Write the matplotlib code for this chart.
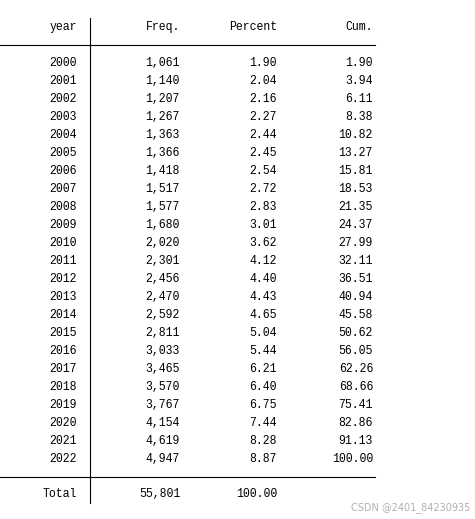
import matplotlib
matplotlib.use("Agg")
import matplotlib.pyplot as plt

years = list(range(2000, 2023))
freq = [1061,1140,1207,1267,1363,1366,1418,1517,1577,1680,2020,2301,2456,2470,2592,2811,3033,3465,3570,3767,4154,4619,4947]
percent = [1.90,2.04,2.16,2.27,2.44,2.45,2.54,2.72,2.83,3.01,3.62,4.12,4.40,4.43,4.65,5.04,5.44,6.21,6.40,6.75,7.44,8.28,8.87]
cum = [1.90,3.94,6.11,8.38,10.82,13.27,15.81,18.53,21.35,24.37,27.99,32.11,36.51,40.94,45.58,50.62,56.05,62.26,68.66,75.41,82.86,91.13,100.00]
headers = ["year", "Freq.", "Percent", "Cum."]
total_label, total_freq, total_pct = "Total", 55801, 100.00

W, H = 475, 519
fig = plt.figure(figsize=(W/100, H/100), dpi=100)
ax = fig.add_axes([0, 0, 1, 1])
ax.set_xlim(0, W); ax.set_ylim(H, 0); ax.axis("off")

font = dict(family="Liberation Mono", fontsize=8.3, color="black", ha="right", va="center")
colx = [77, 180, 277, 373]
for x, h in zip(colx, headers):
    ax.text(x, 27, h, **font)
ax.plot([0, 375], [45, 45], color="black", lw=0.8)
ax.plot([90, 90], [18, 503], color="black", lw=0.8)
ax.plot([0, 375], [477, 477], color="black", lw=0.8)

y0, dy = 63, 18
for i, (yr, f, p, c) in enumerate(zip(years, freq, percent, cum)):
    y = y0 + i * dy
    ax.text(colx[0], y, str(yr), **font)
    ax.text(colx[1], y, f"{f:,}", **font)
    ax.text(colx[2], y, f"{p:.2f}", **font)
    ax.text(colx[3], y, f"{c:.2f}", **font)

ax.text(colx[0], 494, total_label, **font)
ax.text(colx[1], 494, f"{total_freq:,}", **font)
ax.text(colx[2], 494, f"{total_pct:.2f}", **font)

ax.text(470, 508, "CSDN @2401_84230935", family="DejaVu Sans", fontsize=7,
        color="#b0b0b0", ha="right", va="center")
fig.savefig("out.png", dpi=100, facecolor="white")
